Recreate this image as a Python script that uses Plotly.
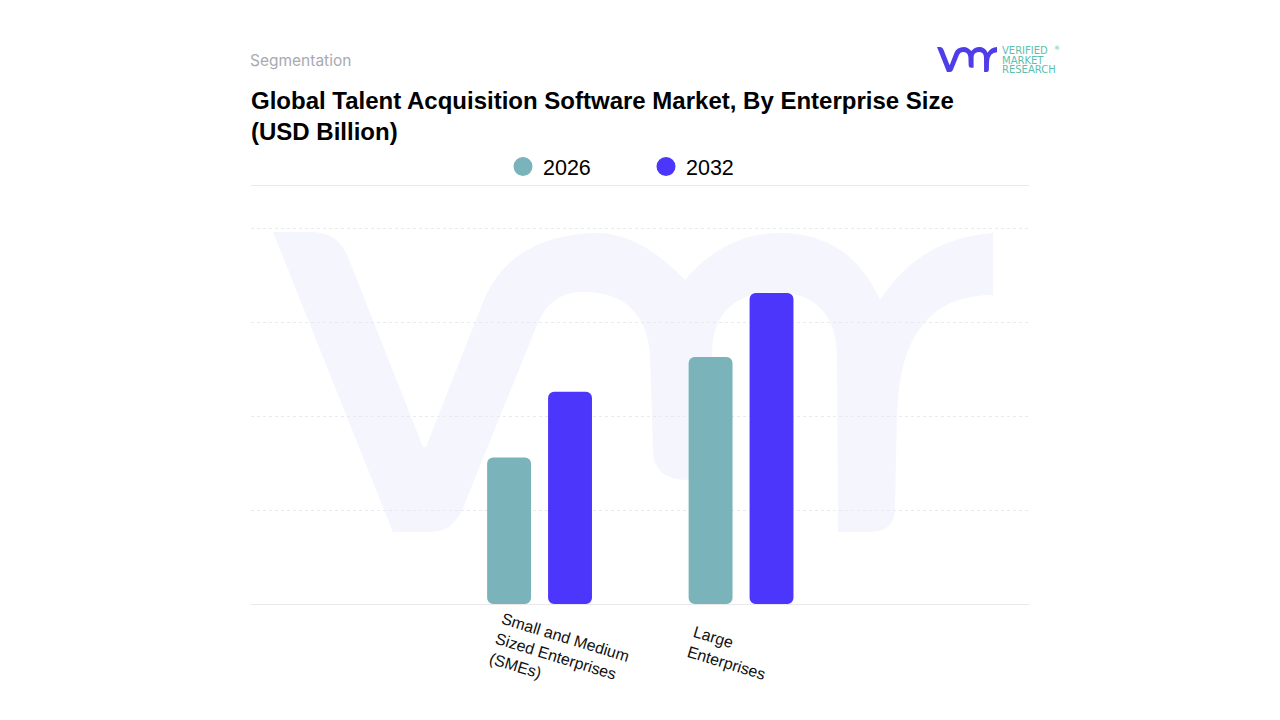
import plotly.graph_objects as go

categories = ["Small and Medium<br>Sized Enterprises<br>(SMEs)", "Large<br>Enterprises"]
years = ["2026", "2032"]
values_2026 = [1.56, 2.63]
values_2032 = [2.26, 3.31]
colors = ["#7ab3b9", "#4d36fb"]

W, H = 1280, 720
L, R, T, B = 251, 1029, 186, 604


def to_paper(px, py):
    return (px - L) / (R - L), (B - py) / (B - T)


# outline of the vmr mark, traced from the watermark, in page pixels
mark = [
    ("M", 273, 232), ("L", 313, 232), ("Q", 340, 232, 350, 262), ("L", 423, 447), ("L", 426, 447),
    ("L", 483, 302), ("Q", 510, 235, 597, 233), ("Q", 640, 233, 685, 280),
    ("Q", 725, 233, 780, 233), ("Q", 850, 233, 880, 300), ("Q", 920, 238, 993, 233),
    ("L", 993, 295), ("Q", 900, 295, 897, 415), ("L", 895, 508), ("Q", 895, 532, 870, 532),
    ("L", 838, 532), ("L", 837, 355), ("Q", 835, 292, 773, 292), ("Q", 712, 295, 712, 355),
    ("L", 712, 480), ("L", 688, 480), ("Q", 653, 480, 653, 450), ("L", 650, 355),
    ("Q", 645, 292, 583, 292), ("Q", 550, 292, 537, 325), ("L", 463, 508),
    ("Q", 453, 532, 430, 532), ("L", 393, 532), ("Z",),
]


def mark_path(scale=1.0, dx=0.0, dy=0.0):
    parts = []
    for seg in mark:
        coords = seg[1:]
        out = []
        for i in range(0, len(coords), 2):
            px = coords[i] * scale + dx
            py = coords[i + 1] * scale + dy
            x, y = to_paper(px, py)
            out.append(f"{x:.5f},{y:.5f}")
        parts.append(seg[0] + " ".join(out))
    return " ".join(parts)


fig = go.Figure()

# an explicit base makes plotly round both ends of the bar
for year, vals, color in zip(years, [values_2026, values_2032], colors):
    fig.add_trace(go.Bar(x=categories, y=vals, base=[0] * len(vals), name=year,
                         marker=dict(color=color, line_width=0), showlegend=False))

for year, color in zip(years, colors):
    fig.add_trace(go.Scatter(x=[None], y=[None], mode="markers", name=year,
                             marker=dict(color=color, size=16, line=dict(color=color, width=3))))

labels = [dict(x=categories[0], y=to_paper(0, 657.5)[1], xshift=19.5),
          dict(x=categories[1], y=to_paper(0, 653)[1], xshift=-12)]
annotations = [
    dict(text=c, xref="x", yref="paper", textangle=17, align="left", showarrow=False,
         xanchor="center", yanchor="middle", font=dict(family="Liberation Sans", size=16, color="#111111"), **pos)
    for c, pos in zip(categories, labels)
]
annotations.append(dict(text="Segmentation", xref="paper", yref="paper", x=to_paper(248, 0)[0], y=to_paper(0, 60)[1],
                        xanchor="left", yanchor="middle", showarrow=False,
                        font=dict(family="Inter", size=15.5, color="#a9a9b3")))
for word, py in zip(["VERIFIED", "MARKET", "RESEARCH"], [51, 60, 69]):
    annotations.append(dict(text=word, xref="paper", yref="paper", x=to_paper(1000, 0)[0], y=to_paper(0, py)[1],
                            xanchor="left", yanchor="middle", showarrow=False,
                            font=dict(family="DejaVu Sans", size=10, color="#5cc0ae")))
annotations.append(dict(text="®", xref="paper", yref="paper", x=to_paper(1057, 0)[0], y=to_paper(0, 47)[1],
                        xanchor="center", yanchor="middle", showarrow=False,
                        font=dict(family="DejaVu Sans", size=6, color="#5cc0ae")))

fig.update_layout(
    width=W, height=H,
    margin=dict(l=L, r=W - R, t=T, b=H - B, pad=0, autoexpand=False),
    paper_bgcolor="white", plot_bgcolor="rgba(0,0,0,0)",
    title=dict(text="<b>Global Talent Acquisition Software Market, By Enterprise Size<br>(USD Billion)</b>",
               x=251 / W, xanchor="left", y=1 - 109 / H, yanchor="top",
               font=dict(family="Liberation Sans", size=24, color="#000000")),
    barmode="group", bargap=0.395, bargroupgap=0.28, barcornerradius=6,
    xaxis=dict(range=[-1.432, 2.429], showticklabels=False, ticks="", showgrid=False, zeroline=False,
               showline=True, mirror=True, linecolor="#e9e9ec", linewidth=1),
    yaxis=dict(range=[0, 4.45], dtick=1, showticklabels=False, ticks="", zeroline=False,
               showgrid=True, gridcolor="#e9e9ee", griddash="dot", gridwidth=1),
    legend=dict(orientation="h", x=503 / W, xref="container", y=1 - 146 / H, yref="container", yanchor="top",
                entrywidth=98, bgcolor="rgba(0,0,0,0)",
                font=dict(family="Liberation Sans", size=21.5, color="#000000")),
    shapes=[
        dict(type="path", xref="paper", yref="paper", path=mark_path(), layer="below",
             fillcolor="#f5f6fd", line_width=0),
        dict(type="path", xref="paper", yref="paper", path=mark_path(1 / 12, 937 - 273 / 12, 47 - 232 / 12),
             fillcolor="#4f3ee8", line_width=0),
    ],
    annotations=annotations,
)

fig.write_html("out.html", config=dict(displayModeBar=False), post_script="document.body.style.margin='0';")
